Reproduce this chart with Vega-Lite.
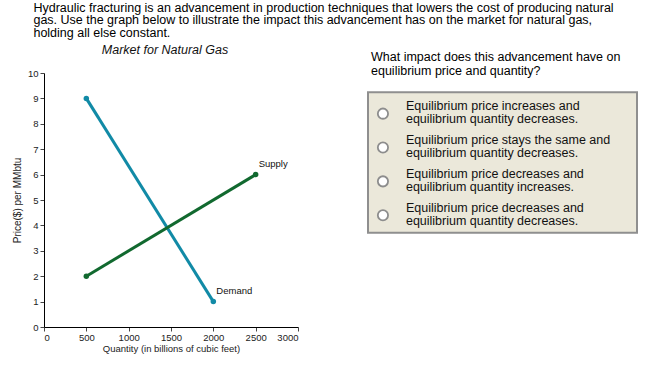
{
  "$schema": "https://vega.github.io/schema/vega-lite/v6.json",
  "padding": {"left": 12, "top": 1, "right": 5, "bottom": 5},
  "background": "white",
  "config": {"view": {"stroke": null}, "font": "Liberation Sans", "text": {"font": "Liberation Sans"}},
  "title": {
    "text": [
      "Hydraulic fracturing is an advancement in production techniques that lowers the cost of producing natural",
      "gas. Use the graph below to illustrate the impact this advancement has on the market for natural gas,",
      "holding all else constant."
    ],
    "anchor": "start",
    "frame": "bounds",
    "dx": 21,
    "fontSize": 12.5,
    "fontWeight": "normal",
    "font": "Liberation Sans",
    "lineHeight": 12.6,
    "offset": 4,
    "color": "#000000"
  },
  "resolve": {"scale": {"x": "independent", "y": "independent"}},
  "spacing": 68,
  "hconcat": [
    {
      "width": 254,
      "height": 254,
      "title": {
        "text": "Market for Natural Gas",
        "fontStyle": "italic",
        "fontSize": 12.5,
        "fontWeight": "normal",
        "font": "Liberation Sans",
        "anchor": "middle",
        "frame": "group",
        "dx": -6,
        "offset": 12,
        "color": "#111111"
      },
      "data": {
        "values": [
          {"series": "Demand", "q": 500, "p": 9},
          {"series": "Demand", "q": 2000, "p": 1, "label": "Demand"},
          {"series": "Supply", "q": 500, "p": 2},
          {"series": "Supply", "q": 2500, "p": 6, "label": "Supply"}
        ]
      },
      "encoding": {
        "x": {
          "field": "q", "type": "quantitative",
          "scale": {"domain": [0, 3000], "nice": false},
          "axis": {
            "values": [0, 500, 1000, 1500, 2000, 2500, 3000],
            "format": "d",
            "title": "Quantity (in billions of cubic feet)",
            "grid": false, "domainColor": "#000000", "tickColor": "#444444", "tickSize": 4,
            "labelFontSize": 9.5, "labelColor": "#222222", "labelFont": "Liberation Sans",
            "titleFontSize": 9.5, "titleFontWeight": "normal", "titleColor": "#222222", "titleFont": "Liberation Sans",
            "titlePadding": 2, "labelPadding": 1
          }
        },
        "y": {
          "field": "p", "type": "quantitative",
          "scale": {"domain": [0, 10], "nice": false},
          "axis": {
            "values": [0, 1, 2, 3, 4, 5, 6, 7, 8, 9, 10],
            "title": "Price($) per MMbtu",
            "grid": false, "domainColor": "#000000", "tickColor": "#444444", "tickSize": 4,
            "labelFontSize": 9.5, "labelColor": "#222222", "labelFont": "Liberation Sans",
            "titleFontSize": 10, "titleFontWeight": "normal", "titleColor": "#222222", "titleFont": "Liberation Sans",
            "titlePadding": 5, "labelPadding": 2
          }
        },
        "color": {
          "field": "series", "type": "nominal",
          "scale": {"domain": ["Demand", "Supply"], "range": ["#118aa6", "#11692f"]},
          "legend": null
        }
      },
      "layer": [
        {"mark": {"type": "line", "strokeWidth": 3}},
        {"mark": {"type": "point", "filled": true, "size": 30, "opacity": 1}},
        {
          "transform": [{"filter": "datum.label"}],
          "mark": {"type": "text", "align": "left", "baseline": "middle", "dx": 3, "dy": -11, "fontSize": 9.5},
          "encoding": {"text": {"field": "label"}, "color": {"value": "#111111"}}
        }
      ]
    },
    {
      "width": 269,
      "height": 254,
      "title": {
        "text": ["What impact does this advancement have on", "equilibrium price and quantity?"],
        "anchor": "start",
        "frame": "group",
        "fontSize": 12.5,
        "fontWeight": "normal",
        "font": "Liberation Sans",
        "lineHeight": 13.5,
        "offset": -4,
        "dx": 3,
        "color": "#000000"
      },
      "data": {
        "values": [
          {"opt": 1, "text": "Equilibrium price increases and\nequilibrium quantity decreases."},
          {"opt": 2, "text": "Equilibrium price stays the same and\nequilibrium quantity decreases."},
          {"opt": 3, "text": "Equilibrium price decreases and\nequilibrium quantity increases."},
          {"opt": 4, "text": "Equilibrium price decreases and\nequilibrium quantity decreases."}
        ]
      },
      "layer": [
        {
          "data": {"values": [{"panel": "choices"}]},
          "mark": {"type": "rect", "fill": "#ebe8da", "stroke": "#8f8f8f", "strokeWidth": 2},
          "encoding": {
            "x": {"datum": 0, "type": "quantitative", "scale": {"domain": [0, 11.7], "nice": false, "zero": false}, "axis": null},
            "x2": {"datum": 11.7},
            "y": {"datum": 0.37, "type": "quantitative", "scale": {"domain": [-0.2, 7.3], "nice": false, "zero": false, "reverse": true}, "axis": null},
            "y2": {"datum": 4.52}
          }
        },
        {
          "mark": {"type": "point", "shape": "circle", "filled": true, "fill": "#ffffff", "stroke": "#8d8d8d", "strokeWidth": 1.8, "size": 105, "opacity": 1},
          "encoding": {
            "x": {"datum": 0.65, "type": "quantitative"},
            "y": {"field": "opt", "type": "quantitative"}
          }
        },
        {
          "mark": {"type": "text", "align": "left", "baseline": "middle", "lineBreak": "\n", "fontSize": 12.5, "lineHeight": 13, "dy": -7.5, "color": "#111111"},
          "encoding": {
            "x": {"datum": 1.65, "type": "quantitative"},
            "y": {"field": "opt", "type": "quantitative"},
            "text": {"field": "text"}
          }
        }
      ]
    }
  ]
}
